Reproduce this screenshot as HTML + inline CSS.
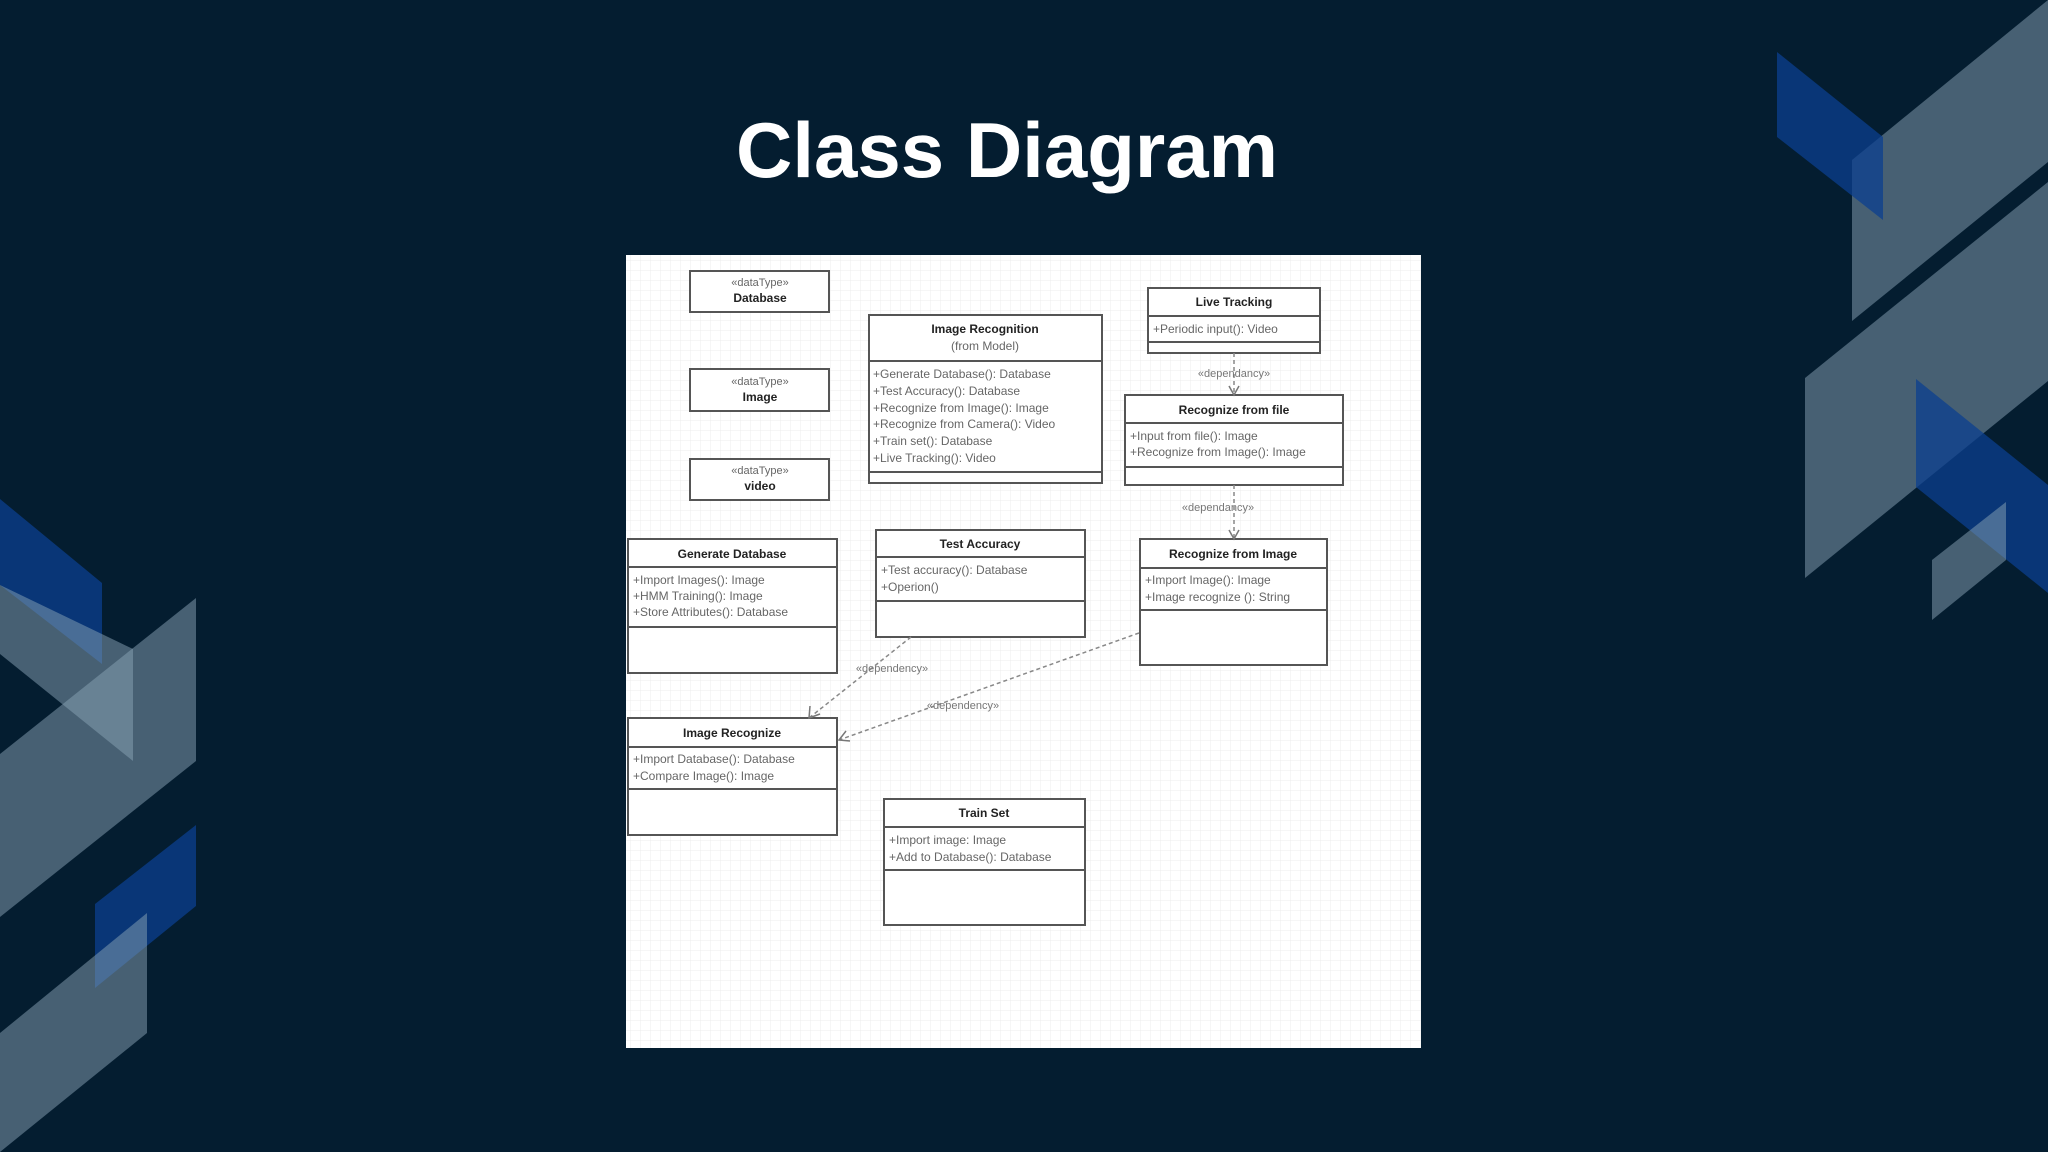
<!DOCTYPE html>
<html><head><meta charset="utf-8"><style>
html,body{margin:0;padding:0;background:#041d30;}
svg{display:block}
</style></head><body>
<svg width="2048" height="1152" viewBox="0 0 2048 1152" xmlns="http://www.w3.org/2000/svg">
<defs>
<pattern id="grid" width="10" height="10" patternUnits="userSpaceOnUse">
<path d="M10 0H0V10" fill="none" stroke="#ececec" stroke-width="1"/>
</pattern>
</defs>
<rect width="2048" height="1152" fill="#041d30"/>
<!-- right decorations -->
<g>
<polygon points="1852,160 2048,0 2048,162 1852,321" fill="#8aa3b5" opacity="0.5"/>
<polygon points="1805,378 2048,182 2048,381 1805,578" fill="#8aa3b5" opacity="0.5"/>
<polygon points="1777,52 1883,137 1883,220 1777,137" fill="#0b3f8f" opacity="0.75"/>
<polygon points="1916,379 2048,485 2048,593 1916,487" fill="#0b3f8f" opacity="0.75"/>
<polygon points="1932,560 2006,502 2006,560 1932,620" fill="#8aa3b5" opacity="0.5"/>
</g>
<!-- left decorations -->
<g>
<polygon points="0,499 102,583 102,664 0,585" fill="#0b3f8f" opacity="0.75"/>
<polygon points="0,585 133,649 133,761 0,654" fill="#8aa3b5" opacity="0.5"/>
<polygon points="0,754 196,598 196,761 0,917" fill="#8aa3b5" opacity="0.5"/>
<polygon points="95,904 196,825 196,906 95,988" fill="#0b3f8f" opacity="0.75"/>
<polygon points="0,1033 147,913 147,1033 0,1152" fill="#8aa3b5" opacity="0.5"/>
</g>
<text x="1007" y="177" text-anchor="middle" font-family="Liberation Sans, sans-serif" font-weight="bold" font-size="78" fill="#ffffff">Class Diagram</text>
<!-- panel -->
<rect x="626" y="255" width="795" height="793" fill="#ffffff"/>
<rect x="626" y="255" width="795" height="793" fill="url(#grid)"/>
<g font-family="Liberation Sans, sans-serif" fill="#222">
<g stroke="#555" stroke-width="2" fill="#fff">
<rect x="690" y="271" width="139" height="41"/>
<rect x="690" y="369" width="139" height="42"/>
<rect x="690" y="459" width="139" height="41"/>
<rect x="869" y="315" width="233" height="168"/>
<rect x="1148" y="288" width="172" height="65"/>
<rect x="1125" y="395" width="218" height="90"/>
<rect x="628" y="539" width="209" height="134"/>
<rect x="876" y="530" width="209" height="107"/>
<rect x="1140" y="539" width="187" height="126"/>
<rect x="628" y="718" width="209" height="117"/>
<rect x="884" y="799" width="201" height="126"/>
</g>
<g stroke="#555" stroke-width="2">
<line x1="869" y1="361" x2="1102" y2="361"/><line x1="869" y1="472" x2="1102" y2="472"/>
<line x1="1148" y1="316" x2="1320" y2="316"/><line x1="1148" y1="342" x2="1320" y2="342"/>
<line x1="1125" y1="423" x2="1343" y2="423"/><line x1="1125" y1="467" x2="1343" y2="467"/>
<line x1="628" y1="567" x2="837" y2="567"/><line x1="628" y1="627" x2="837" y2="627"/>
<line x1="876" y1="557" x2="1085" y2="557"/><line x1="876" y1="601" x2="1085" y2="601"/>
<line x1="1140" y1="568" x2="1327" y2="568"/><line x1="1140" y1="610" x2="1327" y2="610"/>
<line x1="628" y1="747" x2="837" y2="747"/><line x1="628" y1="789" x2="837" y2="789"/>
<line x1="884" y1="827" x2="1085" y2="827"/><line x1="884" y1="870" x2="1085" y2="870"/>
</g>
<!-- dependencies -->
<g stroke="#888" stroke-width="1.5" stroke-dasharray="4,3" fill="none">
<line x1="1234" y1="353" x2="1234" y2="395"/>
<line x1="1234" y1="485" x2="1234" y2="539"/>
<line x1="911" y1="637" x2="809" y2="718"/>
<line x1="1139" y1="633" x2="839" y2="740"/>
</g>
<g stroke="#777" stroke-width="1.5" fill="none">
<polyline points="1229,386 1234,395 1239,386"/>
<polyline points="1229,530 1234,539 1239,530"/>
<polyline points="810,706 809,718 820,714"/>
<polyline points="846,731 839,740 850,741"/>
</g>
<g font-size="11" fill="#777" text-anchor="middle">
<text x="1234" y="377">«dependancy»</text>
<text x="1218" y="511">«dependancy»</text>
<text x="892" y="672">«dependency»</text>
<text x="963" y="709">«dependency»</text>
</g>
<g text-anchor="middle" font-size="12" font-weight="bold">
<text x="760" y="286" font-weight="normal" font-size="11" fill="#666">«dataType»</text><text x="760" y="302">Database</text>
<text x="760" y="385" font-weight="normal" font-size="11" fill="#666">«dataType»</text><text x="760" y="401">Image</text>
<text x="760" y="474" font-weight="normal" font-size="11" fill="#666">«dataType»</text><text x="760" y="490">video</text>
<text x="985" y="333">Image Recognition</text><text x="985" y="350" font-weight="normal" fill="#666">(from Model)</text>
<text x="1234" y="306">Live Tracking</text>
<text x="1234" y="414">Recognize from file</text>
<text x="732" y="558">Generate Database</text>
<text x="980" y="548">Test Accuracy</text>
<text x="1233" y="558">Recognize from Image</text>
<text x="732" y="737">Image Recognize</text>
<text x="984" y="817">Train Set</text>
</g>
<g font-size="12" fill="#666">
<text x="873" y="378">+Generate Database(): Database</text>
<text x="873" y="395">+Test Accuracy(): Database</text>
<text x="873" y="412">+Recognize from Image(): Image</text>
<text x="873" y="428">+Recognize from Camera(): Video</text>
<text x="873" y="445">+Train set(): Database</text>
<text x="873" y="462">+Live Tracking(): Video</text>
<text x="1153" y="333">+Periodic input(): Video</text>
<text x="1130" y="440">+Input from file(): Image</text>
<text x="1130" y="456">+Recognize from Image(): Image</text>
<text x="633" y="584">+Import Images(): Image</text>
<text x="633" y="600">+HMM Training(): Image</text>
<text x="633" y="616">+Store Attributes(): Database</text>
<text x="881" y="574">+Test accuracy(): Database</text>
<text x="881" y="591">+Operion()</text>
<text x="1145" y="584">+Import Image(): Image</text>
<text x="1145" y="601">+Image recognize (): String</text>
<text x="633" y="763">+Import Database(): Database</text>
<text x="633" y="780">+Compare Image(): Image</text>
<text x="889" y="844">+Import image: Image</text>
<text x="889" y="861">+Add to Database(): Database</text>
</g>
</g>
</svg>
</body></html>
